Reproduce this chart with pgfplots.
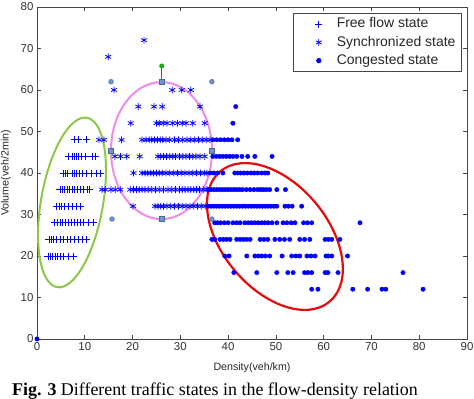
\documentclass[border=0pt]{standalone}
\usepackage{fontspec}
\setmainfont{Liberation Sans}
\newfontfamily\capfont{Liberation Serif}
\usepackage{pgfplots}
\pgfplotsset{compat=1.18}
\definecolor{mblue}{RGB}{0,0,255}
\definecolor{handle}{RGB}{110,150,205}
\definecolor{handled}{RGB}{70,100,150}
\definecolor{egreen}{RGB}{140,200,70}
\definecolor{epink}{RGB}{240,140,230}
\definecolor{ered}{RGB}{230,10,10}
\definecolor{axgray}{RGB}{70,70,70}
\pgfplotsset{lgimg/.style={legend image code/.code={\path[draw=none,fill=none] (0bp,-3bp) (37bp,3bp); \draw[##1, mblue] plot coordinates {(21bp,0bp)};}}}
\begin{document}
\begin{tikzpicture}
\path[use as bounding box] (-37bp,-60bp) rectangle (437bp,339bp);
\begin{axis}[
  at={(0,0)}, anchor=south west,
  scale only axis, width=430bp, height=332bp,
  xmin=0, xmax=90, ymin=0, ymax=80,
  xtick={0,10,...,90}, ytick={0,10,...,80},
  tick align=inside, major tick length=4bp,
  axis line style={draw=axgray, line width=0.8pt},
  every tick/.style={draw=axgray, line width=0.6pt},
  tick label style={font=\fontsize{11.5}{13}\selectfont, text=black!80},
  /pgf/number format/assume math mode=true,
  xlabel={Density(veh/km)}, ylabel={Volume(veh/2min)},
  label style={font=\fontsize{10.7}{12}\selectfont, text=black!85},
  xlabel style={yshift=-5bp},
  ylabel style={yshift=3bp},
  clip=false,
  legend style={at={(0.988,0.982)}, anchor=north east, draw=axgray, line width=0.8pt,
    font=\fontsize{14}{16}\selectfont, text=black!85, row sep=0.5bp,
    inner xsep=4bp, inner ysep=2bp,
    nodes={inner sep=2bp, text height=10.5bp, text depth=3.2bp},
    cells={anchor=west},
    /tikz/every even column/.append style={column sep=7bp}},
  legend cell align=left,
]
% Free flow state
\addplot[only marks, mark=+, mark size=3.5bp, mblue, line width=0.75pt, lgimg] coordinates {
(7.8,48)(8.6,48)(10.3,48)
(6.5,44)(7.3,44)(7.8,44)(8.2,44)(8.7,44)(9.2,44)(10.2,44)(11.5,44)(12.3,44)
(5.6,40)(6.0,40)(6.4,40)(7.3,40)(7.8,40)(8.3,40)(8.8,40)(9.6,40)(10.4,40)(11.3,40)(12.4,40)(13.2,40)
(4.8,36)(5.3,36)(5.8,36)(6.3,36)(6.8,36)(7.3,36)(7.8,36)(8.4,36)(9.0,36)(9.8,36)(10.5,36)(11.0,36)
(4.0,32)(4.6,32)(5.2,32)(5.8,32)(6.5,32)(7.3,32)(8.2,32)(9.0,32)
(3.6,28)(4.2,28)(4.8,28)(5.4,28)(6.0,28)(6.6,28)(7.2,28)(7.8,28)(8.4,28)(9.0,28)(9.8,28)(10.8,28)(11.8,28)
(2.5,24)(3.0,24)(3.5,24)(4.0,24)(4.8,24)(5.6,24)(6.3,24)(7.0,24)(7.8,24)(8.6,24)(9.6,24)(10.3,24)
(2.3,20)(2.8,20)(3.3,20)(3.8,20)(4.3,20)(4.8,20)(5.5,20)(6.5,20)(7.6,20)
};
\addlegendentry{Free flow state}
% Synchronized state
\addplot[only marks, mark=asterisk, mark size=3.4bp, mblue, line width=0.75pt, lgimg] coordinates {
(22.4,72)(14.9,68)
(16.1,60)(28.3,60)(30.3,60)(32.2,60)
(21.2,56)(24.5,56)(26.2,56)(34.1,56)
(19.6,52)(25.0,52)(25.6,52)(26.4,52)(27.2,52)(28.4,52)(29.4,52)(30.4,52)(31.2,52)(32.6,52)(35.1,52)
(13.0,48)(14.0,48)(17.7,48)(22.0,48)(22.8,48)(23.5,48)(24.0,48)(24.6,48)(25.2,48)(25.8,48)(26.3,48)(27.0,48)(27.8,48)(28.8,48)(29.6,48)(30.5,48)(31.4,48)(32.2,48)(33.0,48)(33.8,48)(34.6,48)(35.4,48)(36.2,48)
(16.3,44)(17.5,44)(18.8,44)(21.5,44)(25.3,44)(25.9,44)(26.5,44)(27.1,44)(27.8,44)(28.4,44)(29.0,44)(29.8,44)(30.5,44)(31.2,44)(31.9,44)(32.6,44)(33.3,44)(34.1,44)(35.1,44)
(20.2,40)(22.0,40)(22.6,40)(23.2,40)(23.8,40)(24.4,40)(25.0,40)(25.6,40)(26.2,40)(27.0,40)(27.8,40)(28.6,40)(29.4,40)(30.2,40)(31.0,40)(31.8,40)(32.6,40)(33.4,40)(34.2,40)(35.0,40)(35.6,40)
(13.6,36)(14.3,36)(15.5,36)(16.4,36)(17.4,36)(19.5,36)(20.2,36)(20.8,36)(21.4,36)(22.0,36)(22.6,36)(23.3,36)(24.0,36)(24.8,36)(25.6,36)(26.5,36)(27.4,36)(28.2,36)(29.0,36)(29.8,36)(30.4,36)(31.0,36)(31.6,36)(32.2,36)(32.8,36)(33.4,36)(34.0,36)(34.8,36)(35.6,36)
(20.1,32)(24.7,32)(25.3,32)(25.9,32)(26.5,32)(27.2,32)(28.0,32)(28.8,32)(29.6,32)(30.4,32)(31.2,32)(32.0,32)(32.8,32)(33.6,32)(34.4,32)(35.2,32)
};
\addlegendentry{Synchronized state}
% Congested state
\addplot[only marks, mark=*, mark size=2.2bp, mblue, draw=mblue, fill=mblue, lgimg] coordinates {
(0,0)
(41.6,56)(41.0,52)
(36.8,48)(37.6,48)(38.4,48)(39.2,48)(40.0,48)(40.8,48)(42.0,48)
(36.8,44)(37.5,44)(38.2,44)(38.9,44)(39.6,44)(40.3,44)(41.0,44)(41.8,44)(42.9,44)(44.1,44)(45.6,44)(49.2,44)
(36.2,40)(37.0,40)(37.8,40)(38.9,40)(41.4,40)(42.0,40)(42.6,40)(43.3,40)(44.0,40)(44.8,40)(45.5,40)(46.2,40)(47.0,40)(47.7,40)(48.3,40)
(35.8,36)(36.4,36)(37.0,36)(37.6,36)(38.2,36)(38.8,36)(39.4,36)(40.0,36)(40.6,36)(41.2,36)(41.8,36)(42.4,36)(43.0,36)(43.8,36)(44.6,36)(45.4,36)(46.2,36)(46.8,36)(47.4,36)(48.0,36)(48.7,36)(50.2,36)(52.0,36)
(35.8,32)(36.4,32)(37.0,32)(37.6,32)(38.2,32)(38.8,32)(39.4,32)(40.0,32)(40.6,32)(41.2,32)(41.8,32)(42.4,32)(43.0,32)(43.6,32)(44.2,32)(44.8,32)(45.4,32)(46.0,32)(46.6,32)(47.2,32)(47.8,32)(48.4,32)(49.0,32)(49.6,32)(50.2,32)(51.9,32)(52.6,32)(53.4,32)(55.4,32)
(37.2,28)(37.8,28)(38.4,28)(39.2,28)(40.0,28)(41.0,28)(41.8,28)(42.5,28)(43.5,28)(44.2,28)(44.9,28)(45.6,28)(46.3,28)(47.0,28)(47.7,28)(48.4,28)(49.2,28)(50.2,28)(51.5,28)(52.3,28)(53.2,28)(54.0,28)(55.8,28)(56.6,28)(57.5,28)(67.6,28)
(36.6,24)(37.2,24)(38.3,24)(39.0,24)(39.7,24)(40.4,24)(41.8,24)(42.5,24)(43.2,24)(43.9,24)(44.6,24)(46.7,24)(47.5,24)(48.3,24)(49.8,24)(50.8,24)(51.8,24)(52.9,24)(55.0,24)(56.0,24)(57.1,24)(60.3,24)(61.0,24)(61.7,24)(63.4,24)
(39.3,20)(40.2,20)(43.9,20)(45.6,20)(46.3,20)(47.0,20)(47.8,20)(48.7,20)(51.3,20)(53.3,20)(54.2,20)(55.0,20)(56.5,20)(57.3,20)(58.2,20)(60.5,20)(61.0,20)(61.7,20)(65.0,20)
(41.2,16)(46.0,16)(50.2,16)(52.5,16)(53.6,16)(56.0,16)(56.7,16)(57.5,16)(60.3,16)(60.9,16)(63.0,16)(76.6,16)
(57.5,12)(58.8,12)(66.1,12)(69.2,12)(72.2,12)(73.0,12)(80.8,12)
};
\addlegendentry{Congested state}
% ellipses (annotations)
\draw[egreen, line width=2pt] (axis cs:7.33,32.9) ellipse [x radius=31bp, y radius=86bp, rotate=-10];
\draw[epink, line width=2pt] (axis cs:26.06,45.4) ellipse [x radius=50.5bp, y radius=68.5bp];
\draw[ered, line width=2.2pt] (axis cs:49.8,24.7) ellipse [x radius=85bp, y radius=52.7bp, rotate=-50];
% selection handles on the pink ellipse
\addplot[handled, line width=0.6pt, forget plot] coordinates {(26.1,62)(26.1,65.8)};
\addplot[only marks, mark=square*, mark size=2.6bp, draw=handled, fill=handle, forget plot] coordinates {
(15.5,45.3)(36.6,45.3)(26.1,62)(26.1,28.9)};
\addplot[only marks, mark=*, mark size=2.4bp, draw=handled, fill=handle, forget plot] coordinates {
(15.5,62)(36.6,62)(15.7,28.9)(36.6,28.9)};
\addplot[only marks, mark=*, mark size=2.2bp, draw=green!60!black, fill=green!75!black, forget plot] coordinates {(26.1,65.8)};
\end{axis}
\node[anchor=base, font=\capfont\fontsize{18}{20}\selectfont] at (178bp,-56bp) {\textbf{Fig. 3} Different traffic states in the flow-density relation};
\end{tikzpicture}
\end{document}
